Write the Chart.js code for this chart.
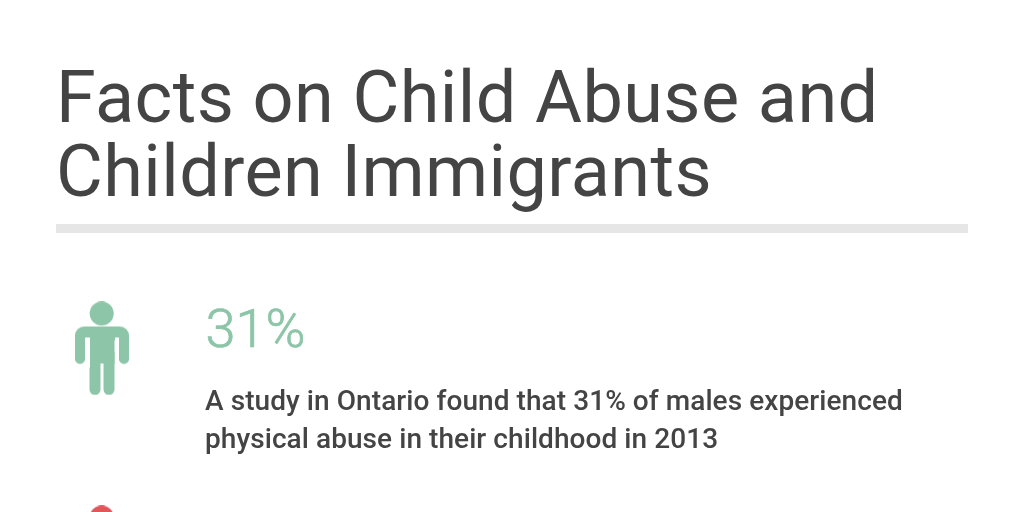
<!DOCTYPE html>
<html><head><meta charset="utf-8">
<style>
html,body{margin:0;padding:0;background:#fff;width:1024px;height:512px;overflow:hidden}
#chart{position:absolute;left:0;top:0;width:1024px;height:512px}
.t{position:absolute;font-family:Roboto,sans-serif;color:#444;white-space:nowrap}
#title{left:56px;top:61px;font-size:72px;line-height:74px;font-weight:400;letter-spacing:.42px}
#rule{position:absolute;left:56px;top:224px;width:912px;height:9px;background:#e6e6e6}
#desc{left:205px;top:382px;font-size:28px;line-height:38px;font-weight:500;letter-spacing:.07px}
</style></head><body>
<canvas id="chart" width="1024" height="512"></canvas>
<div class="t" id="title">Facts on Child Abuse and<br>Children Immigrants</div>
<div id="rule"></div>
<div class="t" id="desc">A study in Ontario found that 31% of males experienced<br>physical abuse in their childhood in 2013</div>
<script src="https://cdn.jsdelivr.net/npm/chart.js@4"></script>
<script>
const categories = ["Males", "Females"];
const percentValues = [31, 21];
const iconColors = ["#8cc5a7", "#e0565b"];

function personIcon(color){
  const c = document.createElement('canvas');
  c.width = 56; c.height = 94;
  const g = c.getContext('2d');
  g.fillStyle = color;
  g.beginPath(); g.arc(27.7, 12, 12, 0, Math.PI*2); g.fill();
  g.beginPath(); g.roundRect(1, 25, 54, 14, [9,9,0,0]); g.fill();
  g.beginPath(); g.roundRect(1, 36, 10, 26.5, [0,0,5,5]); g.fill();
  g.beginPath(); g.roundRect(45, 36, 10, 26.5, [0,0,5,5]); g.fill();
  g.beginPath(); g.roundRect(15.5, 50, 11, 43.5, [0,0,5.5,5.5]); g.fill();
  g.beginPath(); g.roundRect(29.5, 50, 11, 43.5, [0,0,5.5,5.5]); g.fill();
  g.fillRect(15.5, 36, 25, 26);
  g.clearRect(11, 36, 4.5, 30); g.clearRect(40.5, 36, 4.5, 30);
  return c;
}

const percentLabels = {
  id: 'percentLabels',
  afterDatasetsDraw(chart){
    const meta = chart.getDatasetMeta(0), g = chart.ctx;
    g.save();
    g.font = '300 54px Roboto, sans-serif';
    g.textBaseline = 'alphabetic';
    g.lineWidth = 0.7;
    meta.data.forEach((pt, i) => {
      const text = percentValues[i] + '%';
      g.fillStyle = iconColors[i];
      g.strokeStyle = iconColors[i];
      g.fillText(text, pt.x + 103.5, pt.y - 1.5);
      g.strokeText(text, pt.x + 103.5, pt.y - 1.5);
    });
    g.restore();
  }
};

new Chart(document.getElementById('chart'), {
  type: 'line',
  data: {
    labels: categories,
    datasets: [{
      label: 'Share reporting abuse',
      data: categories.map((c, i) => ({ x: 0, y: i })),
      showLine: false,
      pointStyle: iconColors.map(personIcon),
      pointRadius: 47,
      clip: false
    }]
  },
  options: {
    responsive: false,
    animation: false,
    layout: { padding: 0, autoPadding: false },
    plugins: { legend: { display: false }, tooltip: { enabled: false } },
    scales: {
      x: { type: 'linear', display: false, min: -102, max: 922 },
      y: { type: 'linear', display: false, min: -1.7083, max: 0.8015, reverse: true }
    }
  },
  plugins: [percentLabels]
});
</script>
</body></html>
